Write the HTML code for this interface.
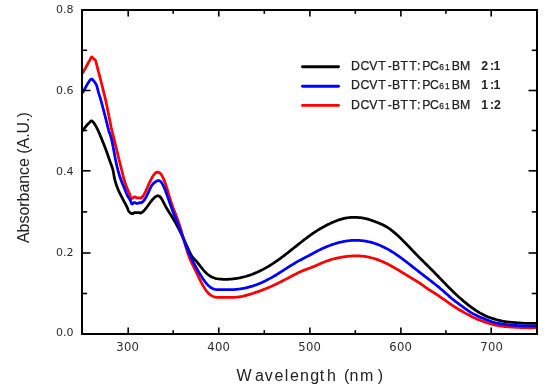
<!DOCTYPE html>
<html><head><meta charset="utf-8"><style>
html,body{margin:0;padding:0;background:#fff;}
body{width:550px;height:392px;overflow:hidden;}
svg{display:block;}
.tk{font-family:"DejaVu Sans","Liberation Sans",sans-serif;font-size:11.6px;fill:#2b2b2b;}
.xl{letter-spacing:0.25px;}
.yl{font-size:11px;}
.lg{font-family:"Liberation Sans",sans-serif;font-size:12.3px;fill:#222;stroke:#222;stroke-width:0.25px;letter-spacing:0.6px;}
.lg .sub{font-size:8.4px;}
.ti{font-family:"Liberation Sans",sans-serif;font-size:16px;fill:#222;}
</style></head><body>
<svg width="550" height="392" viewBox="0 0 550 392">
<rect width="550" height="392" fill="#fff"/>
<g fill="none" stroke-width="2.75" stroke-linejoin="round" stroke-linecap="round">
<path stroke="#000" d="M83.10,130.10 L83.27,129.87 L83.49,129.58 L83.75,129.22 L84.05,128.83 L84.37,128.40 L84.70,127.96 L85.04,127.50 L85.39,127.05 L85.72,126.61 L86.04,126.20 L86.34,125.82 L86.60,125.50 L86.84,125.22 L87.06,124.96 L87.27,124.72 L87.47,124.50 L87.67,124.29 L87.86,124.09 L88.04,123.91 L88.23,123.73 L88.41,123.55 L88.60,123.37 L88.80,123.19 L89.00,123.00 L89.21,122.80 L89.42,122.57 L89.63,122.33 L89.85,122.09 L90.06,121.85 L90.28,121.62 L90.50,121.41 L90.72,121.23 L90.94,121.08 L91.16,120.97 L91.38,120.91 L91.60,120.90 L91.82,120.95 L92.05,121.06 L92.28,121.21 L92.51,121.40 L92.74,121.63 L92.97,121.88 L93.20,122.15 L93.43,122.44 L93.65,122.74 L93.87,123.03 L94.09,123.32 L94.30,123.60 L94.51,123.87 L94.71,124.16 L94.90,124.44 L95.10,124.74 L95.29,125.04 L95.47,125.36 L95.66,125.68 L95.85,126.00 L96.03,126.34 L96.22,126.68 L96.41,127.04 L96.60,127.40 L96.79,127.77 L96.98,128.16 L97.17,128.56 L97.37,128.96 L97.56,129.38 L97.75,129.80 L97.94,130.23 L98.13,130.66 L98.33,131.09 L98.52,131.53 L98.71,131.97 L98.90,132.40 L99.08,132.81 L99.25,133.20 L99.42,133.56 L99.57,133.92 L99.73,134.28 L99.89,134.65 L100.06,135.05 L100.25,135.48 L100.45,135.96 L100.67,136.50 L100.92,137.11 L101.20,137.80 L101.52,138.59 L101.87,139.47 L102.25,140.42 L102.66,141.44 L103.09,142.51 L103.52,143.61 L103.97,144.73 L104.40,145.84 L104.83,146.95 L105.25,148.02 L105.64,149.04 L106.00,150.00 L106.34,150.91 L106.66,151.80 L106.97,152.67 L107.27,153.51 L107.56,154.35 L107.84,155.17 L108.12,155.98 L108.40,156.79 L108.67,157.59 L108.94,158.39 L109.22,159.19 L109.50,160.00 L109.79,160.81 L110.08,161.60 L110.37,162.39 L110.66,163.17 L110.95,163.94 L111.24,164.72 L111.52,165.50 L111.80,166.28 L112.06,167.07 L112.32,167.86 L112.57,168.67 L112.80,169.50 L113.01,170.34 L113.20,171.20 L113.38,172.07 L113.54,172.94 L113.69,173.83 L113.84,174.72 L113.99,175.61 L114.15,176.50 L114.31,177.39 L114.49,178.27 L114.68,179.14 L114.90,180.00 L115.13,180.85 L115.38,181.70 L115.63,182.54 L115.89,183.39 L116.15,184.22 L116.43,185.06 L116.72,185.89 L117.01,186.71 L117.32,187.54 L117.64,188.36 L117.96,189.18 L118.30,190.00 L118.65,190.82 L119.03,191.65 L119.43,192.49 L119.84,193.33 L120.26,194.16 L120.68,194.99 L121.11,195.80 L121.53,196.61 L121.94,197.39 L122.35,198.16 L122.73,198.89 L123.10,199.60 L123.45,200.28 L123.80,200.95 L124.15,201.60 L124.49,202.23 L124.82,202.85 L125.14,203.44 L125.46,204.02 L125.76,204.58 L126.04,205.11 L126.31,205.63 L126.57,206.13 L126.80,206.60 L127.01,207.05 L127.19,207.47 L127.35,207.87 L127.49,208.24 L127.62,208.59 L127.74,208.93 L127.85,209.25 L127.96,209.56 L128.08,209.86 L128.21,210.14 L128.34,210.42 L128.50,210.70 L128.67,210.97 L128.85,211.23 L129.04,211.48 L129.23,211.73 L129.43,211.96 L129.62,212.17 L129.83,212.38 L130.03,212.57 L130.22,212.75 L130.42,212.92 L130.61,213.07 L130.80,213.20 L130.98,213.32 L131.17,213.42 L131.35,213.50 L131.54,213.57 L131.72,213.63 L131.90,213.67 L132.08,213.70 L132.25,213.72 L132.42,213.73 L132.59,213.73 L132.75,213.72 L132.90,213.70 L133.03,213.67 L133.14,213.61 L133.22,213.53 L133.29,213.44 L133.36,213.34 L133.43,213.23 L133.51,213.12 L133.62,213.01 L133.75,212.91 L133.92,212.83 L134.13,212.75 L134.40,212.70 L134.74,212.66 L135.16,212.64 L135.64,212.63 L136.17,212.63 L136.73,212.63 L137.29,212.64 L137.86,212.65 L138.40,212.66 L138.90,212.68 L139.34,212.69 L139.72,212.70 L140.00,212.70 L140.22,213.14 L141.13,212.84 L142.03,212.34 L142.94,211.64 L143.85,210.79 L144.75,209.80 L145.66,208.71 L146.57,207.53 L147.47,206.30 L148.38,205.04 L149.29,203.78 L150.19,202.54 L151.10,201.34 L152.01,200.20 L152.91,199.14 L153.82,198.19 L154.73,197.35 L155.63,196.66 L156.54,196.16 L157.45,195.89 L158.35,195.90 L159.26,196.22 L160.17,196.91 L161.07,198.00 L161.98,199.41 L162.89,201.05 L163.79,202.82 L164.70,204.62 L165.61,206.35 L166.51,207.97 L167.42,209.52 L168.33,211.00 L169.23,212.44 L170.14,213.87 L171.05,215.30 L171.95,216.76 L172.86,218.25 L173.77,219.78 L174.67,221.34 L175.58,222.94 L176.49,224.58 L177.39,226.25 L178.30,227.97 L179.21,229.73 L180.11,231.53 L181.02,233.38 L181.93,235.27 L182.83,237.20 L183.74,239.17 L184.65,241.15 L185.55,243.15 L186.46,245.15 L187.37,247.14 L188.27,249.11 L189.18,251.06 L190.09,252.93 L190.99,254.67 L191.90,256.21 L192.81,257.48 L193.71,258.51 L194.62,259.44 L195.53,260.38 L196.43,261.40 L197.34,262.46 L198.24,263.57 L199.15,264.70 L200.06,265.85 L200.96,267.00 L201.87,268.13 L202.78,269.25 L203.68,270.32 L204.59,271.35 L205.50,272.32 L206.40,273.20 L207.31,274.01 L208.22,274.75 L209.12,275.41 L210.03,276.00 L210.94,276.53 L211.84,276.99 L212.75,277.40 L213.66,277.76 L214.56,278.06 L215.47,278.33 L216.38,278.55 L217.28,278.74 L218.19,278.89 L219.10,279.01 L220.00,279.11 L220.91,279.18 L221.82,279.23 L222.72,279.27 L223.63,279.30 L224.54,279.32 L225.44,279.32 L226.35,279.32 L227.26,279.30 L228.16,279.27 L229.07,279.22 L229.98,279.17 L230.88,279.10 L231.79,279.02 L232.70,278.93 L233.60,278.83 L234.51,278.71 L235.42,278.59 L236.32,278.46 L237.23,278.31 L238.14,278.16 L239.04,277.99 L239.95,277.81 L240.86,277.62 L241.76,277.42 L242.67,277.21 L243.58,276.98 L244.48,276.74 L245.39,276.50 L246.30,276.24 L247.20,275.96 L248.11,275.68 L249.02,275.39 L249.92,275.08 L250.83,274.76 L251.74,274.44 L252.64,274.10 L253.55,273.74 L254.46,273.38 L255.36,273.01 L256.27,272.62 L257.18,272.23 L258.08,271.82 L258.99,271.40 L259.90,270.97 L260.80,270.53 L261.71,270.08 L262.62,269.61 L263.52,269.14 L264.43,268.65 L265.34,268.16 L266.24,267.65 L267.15,267.13 L268.06,266.60 L268.96,266.06 L269.87,265.51 L270.78,264.95 L271.68,264.37 L272.59,263.79 L273.50,263.20 L274.40,262.59 L275.31,261.98 L276.22,261.36 L277.12,260.72 L278.03,260.08 L278.94,259.43 L279.84,258.77 L280.75,258.11 L281.66,257.44 L282.56,256.76 L283.47,256.07 L284.38,255.38 L285.28,254.68 L286.19,253.98 L287.10,253.28 L288.00,252.57 L288.91,251.85 L289.82,251.14 L290.72,250.42 L291.63,249.70 L292.54,248.98 L293.44,248.25 L294.35,247.53 L295.26,246.81 L296.16,246.09 L297.07,245.36 L297.98,244.64 L298.88,243.92 L299.79,243.21 L300.70,242.50 L301.60,241.79 L302.51,241.08 L303.42,240.38 L304.32,239.68 L305.23,238.99 L306.14,238.30 L307.04,237.63 L307.95,236.95 L308.86,236.29 L309.76,235.63 L310.67,234.98 L311.58,234.34 L312.48,233.71 L313.39,233.08 L314.30,232.47 L315.20,231.87 L316.11,231.28 L317.02,230.70 L317.92,230.13 L318.83,229.57 L319.74,229.03 L320.64,228.49 L321.55,227.97 L322.46,227.46 L323.36,226.96 L324.27,226.47 L325.18,225.99 L326.08,225.51 L326.99,225.05 L327.90,224.60 L328.80,224.15 L329.71,223.72 L330.62,223.29 L331.52,222.87 L332.43,222.46 L333.34,222.06 L334.24,221.67 L335.15,221.30 L336.06,220.93 L336.96,220.58 L337.87,220.24 L338.78,219.92 L339.68,219.62 L340.59,219.33 L341.50,219.07 L342.40,218.82 L343.31,218.59 L344.22,218.38 L345.12,218.19 L346.03,218.03 L346.94,217.88 L347.84,217.75 L348.75,217.65 L349.66,217.56 L350.56,217.49 L351.47,217.44 L352.38,217.40 L353.28,217.38 L354.19,217.37 L355.10,217.38 L356.00,217.40 L356.91,217.44 L357.82,217.49 L358.72,217.56 L359.63,217.64 L360.54,217.73 L361.44,217.85 L362.35,217.98 L363.26,218.12 L364.16,218.29 L365.07,218.48 L365.98,218.69 L366.88,218.92 L367.79,219.16 L368.70,219.43 L369.60,219.72 L370.51,220.02 L371.42,220.33 L372.32,220.65 L373.23,220.98 L374.14,221.32 L375.04,221.65 L375.95,221.99 L376.86,222.34 L377.76,222.68 L378.67,223.03 L379.58,223.39 L380.48,223.77 L381.39,224.16 L382.30,224.57 L383.20,225.00 L384.11,225.46 L385.02,225.95 L385.92,226.47 L386.83,227.01 L387.74,227.59 L388.64,228.19 L389.55,228.81 L390.46,229.47 L391.36,230.15 L392.27,230.85 L393.18,231.58 L394.08,232.33 L394.99,233.10 L395.90,233.89 L396.80,234.69 L397.71,235.52 L398.62,236.36 L399.52,237.22 L400.43,238.09 L401.34,238.97 L402.24,239.87 L403.15,240.77 L404.06,241.69 L404.96,242.61 L405.87,243.54 L406.78,244.48 L407.68,245.42 L408.59,246.36 L409.50,247.31 L410.40,248.26 L411.31,249.21 L412.22,250.16 L413.12,251.11 L414.03,252.06 L414.94,253.00 L415.84,253.94 L416.75,254.87 L417.66,255.80 L418.56,256.72 L419.47,257.63 L420.38,258.54 L421.28,259.45 L422.19,260.35 L423.09,261.24 L424.00,262.13 L424.91,263.02 L425.81,263.91 L426.72,264.81 L427.63,265.70 L428.53,266.60 L429.44,267.50 L430.35,268.40 L431.25,269.31 L432.16,270.23 L433.07,271.15 L433.97,272.07 L434.88,273.00 L435.79,273.93 L436.69,274.87 L437.60,275.80 L438.51,276.74 L439.41,277.68 L440.32,278.62 L441.23,279.57 L442.13,280.51 L443.04,281.45 L443.95,282.38 L444.85,283.32 L445.76,284.25 L446.67,285.18 L447.57,286.10 L448.48,287.02 L449.39,287.93 L450.29,288.84 L451.20,289.74 L452.11,290.63 L453.01,291.52 L453.92,292.40 L454.83,293.27 L455.73,294.13 L456.64,294.98 L457.55,295.82 L458.45,296.65 L459.36,297.47 L460.27,298.29 L461.17,299.09 L462.08,299.88 L462.99,300.66 L463.89,301.43 L464.80,302.18 L465.71,302.93 L466.61,303.66 L467.52,304.38 L468.43,305.09 L469.33,305.79 L470.24,306.47 L471.15,307.14 L472.05,307.80 L472.96,308.45 L473.87,309.08 L474.77,309.69 L475.68,310.30 L476.59,310.88 L477.49,311.46 L478.40,312.01 L479.31,312.56 L480.21,313.08 L481.12,313.59 L482.03,314.08 L482.93,314.56 L483.84,315.02 L484.75,315.46 L485.65,315.88 L486.56,316.28 L487.47,316.66 L488.37,317.03 L489.28,317.38 L490.19,317.71 L491.09,318.02 L492.00,318.33 L492.91,318.62 L493.81,318.90 L494.72,319.18 L495.63,319.44 L496.53,319.70 L497.44,319.96 L498.35,320.20 L499.25,320.44 L500.16,320.67 L501.07,320.88 L501.97,321.08 L502.88,321.27 L503.79,321.43 L504.69,321.58 L505.60,321.72 L506.51,321.84 L507.41,321.94 L508.32,322.03 L509.23,322.12 L510.13,322.19 L511.04,322.27 L511.95,322.34 L512.85,322.41 L513.76,322.48 L514.67,322.55 L515.57,322.62 L516.48,322.69 L517.39,322.77 L518.29,322.84 L519.20,322.91 L520.11,322.99 L521.01,323.06 L521.92,323.12 L522.83,323.19 L523.73,323.25 L524.64,323.30 L525.55,323.35 L526.45,323.39 L527.36,323.42 L528.27,323.44 L529.17,323.46 L530.08,323.47 L530.99,323.46 L531.89,323.45 L532.80,323.43 L533.71,323.41 L534.61,323.37 L535.52,323.34 L536.20,323.31"/>
<path stroke="#ff0000" d="M82.80,72.70 L82.91,72.51 L83.04,72.28 L83.19,72.01 L83.36,71.71 L83.55,71.38 L83.74,71.03 L83.95,70.67 L84.16,70.29 L84.38,69.91 L84.59,69.53 L84.80,69.16 L85.00,68.80 L85.20,68.44 L85.41,68.07 L85.62,67.70 L85.83,67.31 L86.05,66.92 L86.26,66.53 L86.48,66.14 L86.69,65.76 L86.90,65.38 L87.11,65.00 L87.31,64.65 L87.50,64.30 L87.68,63.97 L87.86,63.65 L88.03,63.34 L88.20,63.04 L88.36,62.74 L88.52,62.45 L88.68,62.16 L88.84,61.87 L89.00,61.59 L89.17,61.30 L89.33,61.00 L89.50,60.70 L89.67,60.38 L89.85,60.03 L90.02,59.66 L90.20,59.27 L90.38,58.89 L90.56,58.52 L90.73,58.16 L90.91,57.84 L91.09,57.55 L91.26,57.31 L91.43,57.12 L91.60,57.00 L91.77,56.95 L91.93,56.97 L92.09,57.05 L92.25,57.17 L92.41,57.33 L92.56,57.51 L92.72,57.72 L92.87,57.93 L93.03,58.15 L93.19,58.35 L93.34,58.54 L93.50,58.70 L93.66,58.83 L93.82,58.96 L93.99,59.07 L94.16,59.19 L94.33,59.30 L94.49,59.41 L94.66,59.54 L94.82,59.67 L94.97,59.82 L95.12,59.99 L95.27,60.18 L95.40,60.40 L95.52,60.64 L95.63,60.88 L95.73,61.13 L95.83,61.40 L95.91,61.68 L96.00,61.98 L96.09,62.30 L96.17,62.64 L96.27,63.01 L96.37,63.41 L96.48,63.84 L96.60,64.30 L96.73,64.80 L96.87,65.34 L97.02,65.92 L97.17,66.52 L97.32,67.15 L97.48,67.81 L97.64,68.48 L97.81,69.16 L97.98,69.84 L98.15,70.53 L98.33,71.22 L98.50,71.90 L98.67,72.55 L98.83,73.15 L98.99,73.72 L99.14,74.29 L99.30,74.86 L99.47,75.46 L99.64,76.09 L99.83,76.79 L100.04,77.56 L100.27,78.42 L100.52,79.40 L100.80,80.50 L101.12,81.77 L101.49,83.23 L101.89,84.83 L102.31,86.54 L102.76,88.33 L103.21,90.16 L103.66,92.00 L104.11,93.80 L104.53,95.54 L104.93,97.17 L105.29,98.67 L105.60,100.00 L105.87,101.17 L106.11,102.22 L106.32,103.17 L106.50,104.04 L106.67,104.84 L106.82,105.59 L106.97,106.31 L107.11,107.02 L107.25,107.72 L107.39,108.44 L107.54,109.20 L107.70,110.00 L107.87,110.83 L108.04,111.67 L108.20,112.50 L108.37,113.33 L108.54,114.17 L108.70,115.00 L108.86,115.83 L109.03,116.67 L109.20,117.50 L109.36,118.33 L109.53,119.17 L109.70,120.00 L109.87,120.83 L110.04,121.67 L110.21,122.50 L110.38,123.33 L110.55,124.17 L110.72,125.00 L110.89,125.83 L111.07,126.67 L111.24,127.50 L111.43,128.33 L111.61,129.17 L111.80,130.00 L111.99,130.80 L112.17,131.55 L112.34,132.27 L112.52,132.96 L112.69,133.66 L112.88,134.38 L113.07,135.12 L113.28,135.93 L113.50,136.80 L113.74,137.75 L114.01,138.82 L114.30,140.00 L114.63,141.35 L115.00,142.87 L115.40,144.53 L115.83,146.30 L116.27,148.13 L116.72,150.00 L117.17,151.87 L117.62,153.70 L118.04,155.47 L118.45,157.13 L118.82,158.65 L119.15,160.00 L119.44,161.19 L119.71,162.25 L119.96,163.22 L120.18,164.10 L120.39,164.91 L120.58,165.67 L120.77,166.39 L120.95,167.09 L121.13,167.78 L121.32,168.49 L121.50,169.22 L121.70,170.00 L121.90,170.80 L122.09,171.60 L122.28,172.40 L122.47,173.19 L122.65,173.98 L122.83,174.76 L123.02,175.54 L123.21,176.31 L123.40,177.07 L123.59,177.82 L123.79,178.57 L124.00,179.30 L124.22,180.03 L124.44,180.76 L124.67,181.48 L124.91,182.20 L125.15,182.92 L125.39,183.62 L125.63,184.31 L125.87,184.99 L126.11,185.64 L126.34,186.28 L126.58,186.90 L126.80,187.50 L127.02,188.07 L127.24,188.61 L127.46,189.14 L127.67,189.64 L127.89,190.12 L128.10,190.59 L128.31,191.05 L128.51,191.51 L128.72,191.96 L128.92,192.40 L129.11,192.85 L129.30,193.30 L129.48,193.77 L129.65,194.27 L129.81,194.78 L129.96,195.30 L130.11,195.81 L130.26,196.31 L130.41,196.78 L130.57,197.21 L130.73,197.61 L130.91,197.94 L131.10,198.21 L131.30,198.40 L131.52,198.50 L131.76,198.50 L132.01,198.43 L132.27,198.30 L132.54,198.12 L132.81,197.91 L133.09,197.68 L133.36,197.46 L133.63,197.25 L133.90,197.08 L134.16,196.96 L134.40,196.90 L134.63,196.90 L134.86,196.93 L135.08,197.00 L135.29,197.09 L135.50,197.19 L135.71,197.31 L135.91,197.43 L136.12,197.55 L136.33,197.66 L136.55,197.76 L136.77,197.84 L137.00,197.90 L137.25,197.94 L137.51,197.96 L137.79,197.97 L138.08,197.97 L138.37,197.97 L138.66,197.96 L138.94,197.95 L139.21,197.94 L139.45,197.92 L139.67,197.91 L139.85,197.90 L140.00,197.90 L140.86,198.18 L141.77,197.50 L142.68,196.49 L143.59,195.16 L144.49,193.56 L145.40,191.74 L146.31,189.77 L147.22,187.74 L148.12,185.68 L149.03,183.64 L149.94,181.68 L150.84,179.82 L151.75,178.09 L152.66,176.52 L153.57,175.15 L154.47,174.00 L155.38,173.10 L156.29,172.48 L157.19,172.15 L158.10,172.13 L159.01,172.44 L159.92,173.08 L160.82,174.04 L161.73,175.31 L162.64,176.90 L163.55,178.78 L164.45,180.97 L165.36,183.45 L166.27,186.21 L167.17,189.18 L168.08,192.26 L168.99,195.35 L169.90,198.39 L170.80,201.26 L171.71,203.94 L172.62,206.46 L173.53,208.87 L174.43,211.21 L175.34,213.53 L176.25,215.88 L177.15,218.30 L178.06,220.84 L178.97,223.52 L179.88,226.33 L180.78,229.27 L181.69,232.31 L182.60,235.46 L183.51,238.67 L184.41,241.89 L185.32,245.06 L186.23,248.13 L187.13,251.06 L188.04,253.81 L188.95,256.33 L189.86,258.63 L190.76,260.76 L191.67,262.74 L192.58,264.64 L193.48,266.48 L194.39,268.31 L195.30,270.16 L196.21,272.04 L197.11,273.93 L198.02,275.82 L198.93,277.70 L199.84,279.55 L200.74,281.35 L201.65,283.11 L202.56,284.79 L203.46,286.40 L204.37,287.91 L205.28,289.32 L206.19,290.61 L207.09,291.77 L208.00,292.79 L208.91,293.68 L209.82,294.46 L210.72,295.12 L211.63,295.68 L212.54,296.15 L213.44,296.53 L214.35,296.83 L215.26,297.05 L216.17,297.22 L217.07,297.33 L217.98,297.40 L218.89,297.43 L219.80,297.43 L220.70,297.40 L221.61,297.36 L222.52,297.33 L223.42,297.30 L224.33,297.28 L225.24,297.28 L226.15,297.28 L227.05,297.29 L227.96,297.31 L228.87,297.32 L229.78,297.34 L230.68,297.35 L231.59,297.35 L232.50,297.34 L233.40,297.32 L234.31,297.29 L235.22,297.25 L236.13,297.19 L237.03,297.13 L237.94,297.04 L238.85,296.93 L239.75,296.81 L240.66,296.66 L241.57,296.50 L242.48,296.32 L243.38,296.12 L244.29,295.91 L245.20,295.68 L246.11,295.44 L247.01,295.19 L247.92,294.93 L248.83,294.66 L249.73,294.38 L250.64,294.10 L251.55,293.81 L252.46,293.52 L253.36,293.22 L254.27,292.92 L255.18,292.62 L256.09,292.31 L256.99,291.99 L257.90,291.67 L258.81,291.35 L259.71,291.02 L260.62,290.68 L261.53,290.35 L262.44,290.00 L263.34,289.65 L264.25,289.30 L265.16,288.94 L266.07,288.57 L266.97,288.20 L267.88,287.82 L268.79,287.44 L269.69,287.05 L270.60,286.65 L271.51,286.25 L272.42,285.85 L273.32,285.43 L274.23,285.01 L275.14,284.59 L276.05,284.16 L276.95,283.72 L277.86,283.28 L278.77,282.83 L279.67,282.38 L280.58,281.92 L281.49,281.46 L282.40,281.00 L283.30,280.54 L284.21,280.07 L285.12,279.60 L286.02,279.12 L286.93,278.65 L287.84,278.17 L288.75,277.69 L289.65,277.22 L290.56,276.74 L291.47,276.26 L292.38,275.79 L293.28,275.31 L294.19,274.84 L295.10,274.37 L296.00,273.91 L296.91,273.45 L297.82,272.99 L298.73,272.55 L299.63,272.11 L300.54,271.69 L301.45,271.28 L302.36,270.88 L303.26,270.51 L304.17,270.14 L305.08,269.79 L305.98,269.45 L306.89,269.13 L307.80,268.80 L308.71,268.48 L309.61,268.16 L310.52,267.83 L311.43,267.49 L312.34,267.14 L313.24,266.78 L314.15,266.41 L315.06,266.02 L315.96,265.63 L316.87,265.23 L317.78,264.83 L318.69,264.42 L319.59,264.01 L320.50,263.61 L321.41,263.21 L322.31,262.81 L323.22,262.43 L324.13,262.05 L325.04,261.69 L325.94,261.34 L326.85,261.00 L327.76,260.68 L328.67,260.37 L329.57,260.08 L330.48,259.79 L331.39,259.52 L332.29,259.26 L333.20,259.01 L334.11,258.78 L335.02,258.55 L335.92,258.33 L336.83,258.13 L337.74,257.94 L338.65,257.75 L339.55,257.58 L340.46,257.41 L341.37,257.26 L342.27,257.11 L343.18,256.97 L344.09,256.84 L345.00,256.72 L345.90,256.60 L346.81,256.49 L347.72,256.38 L348.63,256.29 L349.53,256.20 L350.44,256.12 L351.35,256.05 L352.25,255.99 L353.16,255.94 L354.07,255.91 L354.98,255.88 L355.88,255.87 L356.79,255.87 L357.70,255.89 L358.61,255.91 L359.51,255.96 L360.42,256.01 L361.33,256.08 L362.23,256.16 L363.14,256.25 L364.05,256.36 L364.96,256.48 L365.86,256.62 L366.77,256.77 L367.68,256.93 L368.58,257.11 L369.49,257.30 L370.40,257.51 L371.31,257.73 L372.21,257.96 L373.12,258.21 L374.03,258.47 L374.94,258.75 L375.84,259.04 L376.75,259.35 L377.66,259.66 L378.56,260.00 L379.47,260.35 L380.38,260.71 L381.29,261.08 L382.19,261.47 L383.10,261.87 L384.01,262.28 L384.92,262.71 L385.82,263.15 L386.73,263.59 L387.64,264.05 L388.54,264.52 L389.45,265.00 L390.36,265.49 L391.27,265.98 L392.17,266.49 L393.08,267.00 L393.99,267.52 L394.90,268.04 L395.80,268.57 L396.71,269.11 L397.62,269.65 L398.52,270.19 L399.43,270.74 L400.34,271.29 L401.25,271.84 L402.15,272.40 L403.06,272.95 L403.97,273.51 L404.88,274.07 L405.78,274.63 L406.69,275.18 L407.60,275.74 L408.50,276.29 L409.41,276.84 L410.32,277.39 L411.23,277.94 L412.13,278.48 L413.04,279.02 L413.95,279.56 L414.85,280.10 L415.76,280.64 L416.67,281.19 L417.58,281.75 L418.48,282.32 L419.39,282.90 L420.30,283.51 L421.21,284.14 L422.11,284.79 L423.02,285.45 L423.93,286.12 L424.83,286.79 L425.74,287.45 L426.65,288.10 L427.56,288.73 L428.46,289.33 L429.37,289.92 L430.28,290.48 L431.19,291.04 L432.09,291.59 L433.00,292.14 L433.91,292.71 L434.81,293.28 L435.72,293.87 L436.63,294.46 L437.54,295.07 L438.44,295.69 L439.35,296.31 L440.26,296.93 L441.17,297.56 L442.07,298.19 L442.98,298.82 L443.89,299.45 L444.79,300.09 L445.70,300.72 L446.61,301.36 L447.52,302.00 L448.42,302.64 L449.33,303.28 L450.24,303.91 L451.14,304.54 L452.05,305.16 L452.96,305.77 L453.87,306.37 L454.77,306.95 L455.68,307.53 L456.59,308.10 L457.50,308.66 L458.40,309.20 L459.31,309.74 L460.22,310.27 L461.12,310.79 L462.03,311.31 L462.94,311.82 L463.85,312.33 L464.75,312.84 L465.66,313.34 L466.57,313.84 L467.48,314.33 L468.38,314.82 L469.29,315.31 L470.20,315.79 L471.10,316.27 L472.01,316.73 L472.92,317.19 L473.83,317.63 L474.73,318.06 L475.64,318.47 L476.55,318.87 L477.46,319.25 L478.36,319.62 L479.27,319.98 L480.18,320.33 L481.08,320.67 L481.99,321.00 L482.90,321.33 L483.81,321.66 L484.71,321.98 L485.62,322.30 L486.53,322.62 L487.44,322.92 L488.34,323.22 L489.25,323.50 L490.16,323.77 L491.06,324.03 L491.97,324.28 L492.88,324.51 L493.79,324.73 L494.69,324.94 L495.60,325.14 L496.51,325.32 L497.41,325.50 L498.32,325.67 L499.23,325.83 L500.14,325.97 L501.04,326.11 L501.95,326.24 L502.86,326.36 L503.77,326.46 L504.67,326.56 L505.58,326.65 L506.49,326.73 L507.39,326.80 L508.30,326.87 L509.21,326.94 L510.12,327.00 L511.02,327.05 L511.93,327.11 L512.84,327.16 L513.75,327.21 L514.65,327.26 L515.56,327.31 L516.47,327.36 L517.37,327.41 L518.28,327.45 L519.19,327.50 L520.10,327.54 L521.00,327.58 L521.91,327.62 L522.82,327.65 L523.73,327.68 L524.63,327.71 L525.54,327.73 L526.45,327.75 L527.35,327.77 L528.26,327.78 L529.17,327.79 L530.08,327.79 L530.98,327.78 L531.89,327.78 L532.80,327.76 L533.71,327.75 L534.61,327.73 L535.52,327.71 L536.20,327.70"/>
<path stroke="#0000ff" d="M82.80,92.40 L82.99,92.06 L83.23,91.61 L83.52,91.09 L83.84,90.50 L84.18,89.86 L84.55,89.19 L84.92,88.51 L85.30,87.83 L85.66,87.18 L86.00,86.56 L86.32,85.99 L86.60,85.50 L86.85,85.07 L87.08,84.66 L87.29,84.28 L87.50,83.93 L87.69,83.60 L87.87,83.28 L88.06,82.98 L88.24,82.69 L88.42,82.41 L88.60,82.14 L88.80,81.87 L89.00,81.60 L89.21,81.32 L89.42,81.03 L89.63,80.73 L89.85,80.44 L90.06,80.16 L90.28,79.89 L90.50,79.64 L90.72,79.43 L90.94,79.25 L91.16,79.11 L91.38,79.03 L91.60,79.00 L91.82,79.04 L92.05,79.13 L92.28,79.28 L92.51,79.47 L92.74,79.69 L92.97,79.95 L93.20,80.23 L93.43,80.52 L93.65,80.82 L93.87,81.12 L94.09,81.42 L94.30,81.70 L94.51,81.97 L94.71,82.23 L94.91,82.50 L95.11,82.77 L95.31,83.05 L95.50,83.34 L95.69,83.64 L95.88,83.96 L96.06,84.31 L96.24,84.67 L96.42,85.07 L96.60,85.50 L96.77,85.97 L96.94,86.47 L97.10,87.00 L97.25,87.56 L97.40,88.15 L97.56,88.74 L97.71,89.35 L97.86,89.97 L98.01,90.59 L98.17,91.20 L98.33,91.81 L98.50,92.40 L98.67,92.97 L98.84,93.53 L99.01,94.08 L99.19,94.63 L99.37,95.17 L99.54,95.73 L99.73,96.29 L99.91,96.87 L100.10,97.48 L100.30,98.12 L100.49,98.79 L100.70,99.50 L100.91,100.26 L101.13,101.06 L101.36,101.90 L101.60,102.77 L101.83,103.66 L102.08,104.57 L102.32,105.49 L102.56,106.41 L102.80,107.33 L103.04,108.24 L103.27,109.13 L103.50,110.00 L103.72,110.85 L103.95,111.70 L104.17,112.54 L104.39,113.37 L104.60,114.20 L104.82,115.03 L105.03,115.86 L105.25,116.69 L105.46,117.51 L105.67,118.34 L105.89,119.17 L106.10,120.00 L106.31,120.83 L106.52,121.67 L106.72,122.50 L106.92,123.33 L107.12,124.17 L107.32,125.00 L107.52,125.83 L107.73,126.67 L107.94,127.50 L108.15,128.33 L108.37,129.17 L108.60,130.00 L108.83,130.80 L109.07,131.55 L109.31,132.27 L109.56,132.96 L109.81,133.66 L110.06,134.38 L110.32,135.12 L110.59,135.93 L110.85,136.80 L111.13,137.75 L111.41,138.82 L111.70,140.00 L112.00,141.35 L112.32,142.87 L112.66,144.53 L113.00,146.30 L113.35,148.13 L113.70,150.00 L114.05,151.87 L114.39,153.70 L114.72,155.47 L115.03,157.13 L115.33,158.65 L115.60,160.00 L115.85,161.19 L116.07,162.25 L116.27,163.21 L116.46,164.09 L116.64,164.90 L116.81,165.66 L116.98,166.38 L117.15,167.07 L117.32,167.77 L117.50,168.48 L117.69,169.22 L117.90,170.00 L118.12,170.81 L118.34,171.62 L118.56,172.42 L118.79,173.22 L119.03,174.02 L119.26,174.81 L119.50,175.60 L119.75,176.39 L120.00,177.17 L120.26,177.95 L120.53,178.73 L120.80,179.50 L121.08,180.27 L121.38,181.05 L121.69,181.84 L122.01,182.62 L122.33,183.40 L122.66,184.17 L122.98,184.93 L123.30,185.68 L123.62,186.42 L123.93,187.13 L124.22,187.83 L124.50,188.50 L124.76,189.15 L125.02,189.78 L125.26,190.39 L125.49,190.99 L125.72,191.58 L125.94,192.14 L126.16,192.70 L126.39,193.24 L126.61,193.77 L126.83,194.29 L127.06,194.80 L127.30,195.30 L127.55,195.79 L127.80,196.27 L128.07,196.73 L128.34,197.18 L128.61,197.62 L128.88,198.05 L129.14,198.47 L129.40,198.87 L129.64,199.27 L129.88,199.66 L130.10,200.03 L130.30,200.40 L130.48,200.77 L130.64,201.15 L130.78,201.53 L130.90,201.90 L131.02,202.26 L131.13,202.61 L131.24,202.94 L131.35,203.23 L131.47,203.49 L131.60,203.71 L131.74,203.88 L131.90,204.00 L132.08,204.05 L132.26,204.02 L132.46,203.92 L132.66,203.79 L132.87,203.61 L133.09,203.41 L133.31,203.21 L133.53,203.00 L133.75,202.82 L133.97,202.66 L134.19,202.55 L134.40,202.50 L134.61,202.50 L134.82,202.55 L135.03,202.62 L135.24,202.72 L135.46,202.84 L135.67,202.97 L135.88,203.10 L136.10,203.22 L136.32,203.33 L136.54,203.42 L136.77,203.48 L137.00,203.50 L137.25,203.48 L137.51,203.44 L137.79,203.37 L138.08,203.28 L138.37,203.17 L138.66,203.06 L138.94,202.95 L139.21,202.83 L139.45,202.73 L139.67,202.63 L139.85,202.55 L140.00,202.50 L140.86,202.89 L141.77,202.49 L142.68,201.80 L143.59,200.84 L144.49,199.64 L145.40,198.22 L146.31,196.61 L147.22,194.84 L148.12,192.92 L149.03,190.90 L149.94,188.88 L150.84,187.05 L151.75,185.55 L152.66,184.36 L153.57,183.40 L154.47,182.60 L155.38,181.90 L156.29,181.29 L157.19,180.83 L158.10,180.58 L159.01,180.61 L159.92,180.97 L160.82,181.72 L161.73,182.87 L162.64,184.37 L163.55,186.18 L164.45,188.24 L165.36,190.51 L166.27,192.94 L167.17,195.49 L168.08,198.10 L168.99,200.74 L169.90,203.36 L170.80,205.91 L171.71,208.38 L172.62,210.78 L173.53,213.13 L174.43,215.44 L175.34,217.73 L176.25,219.99 L177.15,222.25 L178.06,224.52 L178.97,226.81 L179.88,229.14 L180.78,231.51 L181.69,233.93 L182.60,236.40 L183.51,238.88 L184.41,241.36 L185.32,243.80 L186.23,246.18 L187.13,248.48 L188.04,250.69 L188.95,252.83 L189.86,254.89 L190.76,256.89 L191.67,258.81 L192.58,260.68 L193.48,262.49 L194.39,264.24 L195.30,265.94 L196.21,267.60 L197.11,269.22 L198.02,270.81 L198.93,272.36 L199.84,273.88 L200.74,275.36 L201.65,276.79 L202.56,278.18 L203.46,279.51 L204.37,280.79 L205.28,281.99 L206.19,283.12 L207.09,284.17 L208.00,285.14 L208.91,286.02 L209.82,286.79 L210.72,287.47 L211.63,288.04 L212.54,288.51 L213.44,288.88 L214.35,289.18 L215.26,289.40 L216.17,289.55 L217.07,289.66 L217.98,289.72 L218.89,289.74 L219.80,289.74 L220.70,289.72 L221.61,289.70 L222.52,289.69 L223.42,289.68 L224.33,289.68 L225.24,289.68 L226.15,289.68 L227.05,289.69 L227.96,289.69 L228.87,289.68 L229.78,289.67 L230.68,289.66 L231.59,289.63 L232.50,289.60 L233.40,289.56 L234.31,289.51 L235.22,289.45 L236.13,289.38 L237.03,289.30 L237.94,289.21 L238.85,289.11 L239.75,289.00 L240.66,288.87 L241.57,288.73 L242.48,288.58 L243.38,288.42 L244.29,288.24 L245.20,288.05 L246.11,287.85 L247.01,287.64 L247.92,287.41 L248.83,287.17 L249.73,286.92 L250.64,286.66 L251.55,286.39 L252.46,286.11 L253.36,285.81 L254.27,285.50 L255.18,285.19 L256.09,284.86 L256.99,284.51 L257.90,284.16 L258.81,283.80 L259.71,283.43 L260.62,283.04 L261.53,282.65 L262.44,282.24 L263.34,281.82 L264.25,281.40 L265.16,280.96 L266.07,280.51 L266.97,280.05 L267.88,279.59 L268.79,279.11 L269.69,278.62 L270.60,278.12 L271.51,277.62 L272.42,277.10 L273.32,276.58 L274.23,276.05 L275.14,275.51 L276.05,274.96 L276.95,274.40 L277.86,273.84 L278.77,273.28 L279.67,272.70 L280.58,272.13 L281.49,271.55 L282.40,270.96 L283.30,270.38 L284.21,269.80 L285.12,269.21 L286.02,268.62 L286.93,268.04 L287.84,267.46 L288.75,266.88 L289.65,266.30 L290.56,265.73 L291.47,265.17 L292.38,264.61 L293.28,264.05 L294.19,263.51 L295.10,262.97 L296.00,262.44 L296.91,261.92 L297.82,261.40 L298.73,260.90 L299.63,260.41 L300.54,259.92 L301.45,259.44 L302.36,258.96 L303.26,258.49 L304.17,258.02 L305.08,257.55 L305.98,257.08 L306.89,256.61 L307.80,256.14 L308.71,255.66 L309.61,255.18 L310.52,254.70 L311.43,254.21 L312.34,253.72 L313.24,253.23 L314.15,252.75 L315.06,252.26 L315.96,251.77 L316.87,251.29 L317.78,250.82 L318.69,250.36 L319.59,249.90 L320.50,249.45 L321.41,249.01 L322.31,248.59 L323.22,248.17 L324.13,247.77 L325.04,247.37 L325.94,246.99 L326.85,246.62 L327.76,246.26 L328.67,245.91 L329.57,245.56 L330.48,245.23 L331.39,244.91 L332.29,244.59 L333.20,244.29 L334.11,243.99 L335.02,243.71 L335.92,243.43 L336.83,243.17 L337.74,242.91 L338.65,242.67 L339.55,242.43 L340.46,242.21 L341.37,242.00 L342.27,241.80 L343.18,241.61 L344.09,241.43 L345.00,241.27 L345.90,241.12 L346.81,240.98 L347.72,240.86 L348.63,240.75 L349.53,240.65 L350.44,240.56 L351.35,240.49 L352.25,240.43 L353.16,240.39 L354.07,240.35 L354.98,240.34 L355.88,240.33 L356.79,240.34 L357.70,240.37 L358.61,240.40 L359.51,240.45 L360.42,240.52 L361.33,240.60 L362.23,240.69 L363.14,240.80 L364.05,240.92 L364.96,241.06 L365.86,241.21 L366.77,241.37 L367.68,241.55 L368.58,241.74 L369.49,241.95 L370.40,242.17 L371.31,242.41 L372.21,242.66 L373.12,242.93 L374.03,243.21 L374.94,243.50 L375.84,243.81 L376.75,244.13 L377.66,244.47 L378.56,244.82 L379.47,245.19 L380.38,245.57 L381.29,245.97 L382.19,246.38 L383.10,246.80 L384.01,247.24 L384.92,247.69 L385.82,248.16 L386.73,248.63 L387.64,249.13 L388.54,249.63 L389.45,250.16 L390.36,250.69 L391.27,251.24 L392.17,251.80 L393.08,252.37 L393.99,252.95 L394.90,253.55 L395.80,254.15 L396.71,254.77 L397.62,255.40 L398.52,256.04 L399.43,256.68 L400.34,257.34 L401.25,258.00 L402.15,258.67 L403.06,259.35 L403.97,260.04 L404.88,260.73 L405.78,261.42 L406.69,262.12 L407.60,262.82 L408.50,263.53 L409.41,264.24 L410.32,264.95 L411.23,265.67 L412.13,266.38 L413.04,267.10 L413.95,267.82 L414.85,268.53 L415.76,269.25 L416.67,269.96 L417.58,270.67 L418.48,271.38 L419.39,272.09 L420.30,272.80 L421.21,273.50 L422.11,274.20 L423.02,274.90 L423.93,275.60 L424.83,276.29 L425.74,276.99 L426.65,277.68 L427.56,278.38 L428.46,279.07 L429.37,279.77 L430.28,280.47 L431.19,281.17 L432.09,281.87 L433.00,282.58 L433.91,283.29 L434.81,284.00 L435.72,284.72 L436.63,285.45 L437.54,286.19 L438.44,286.93 L439.35,287.68 L440.26,288.44 L441.17,289.20 L442.07,289.98 L442.98,290.76 L443.89,291.56 L444.79,292.36 L445.70,293.16 L446.61,293.97 L447.52,294.78 L448.42,295.58 L449.33,296.38 L450.24,297.17 L451.14,297.95 L452.05,298.71 L452.96,299.46 L453.87,300.19 L454.77,300.90 L455.68,301.59 L456.59,302.27 L457.50,302.95 L458.40,303.61 L459.31,304.27 L460.22,304.93 L461.12,305.59 L462.03,306.26 L462.94,306.92 L463.85,307.59 L464.75,308.26 L465.66,308.92 L466.57,309.58 L467.48,310.22 L468.38,310.85 L469.29,311.45 L470.20,312.04 L471.10,312.60 L472.01,313.13 L472.92,313.65 L473.83,314.14 L474.73,314.61 L475.64,315.07 L476.55,315.52 L477.46,315.95 L478.36,316.37 L479.27,316.77 L480.18,317.16 L481.08,317.54 L481.99,317.92 L482.90,318.28 L483.81,318.64 L484.71,318.99 L485.62,319.35 L486.53,319.71 L487.44,320.07 L488.34,320.42 L489.25,320.77 L490.16,321.12 L491.06,321.44 L491.97,321.75 L492.88,322.05 L493.79,322.32 L494.69,322.57 L495.60,322.80 L496.51,323.01 L497.41,323.21 L498.32,323.39 L499.23,323.56 L500.14,323.71 L501.04,323.86 L501.95,324.00 L502.86,324.14 L503.77,324.26 L504.67,324.38 L505.58,324.50 L506.49,324.61 L507.39,324.71 L508.30,324.81 L509.21,324.90 L510.12,324.99 L511.02,325.07 L511.93,325.15 L512.84,325.23 L513.75,325.30 L514.65,325.36 L515.56,325.42 L516.47,325.48 L517.37,325.54 L518.28,325.59 L519.19,325.64 L520.10,325.68 L521.00,325.72 L521.91,325.76 L522.82,325.80 L523.73,325.83 L524.63,325.86 L525.54,325.89 L526.45,325.92 L527.35,325.95 L528.26,325.97 L529.17,326.00 L530.08,326.02 L530.98,326.04 L531.89,326.06 L532.80,326.08 L533.71,326.10 L534.61,326.12 L535.52,326.14 L536.20,326.15"/>
</g>
<g stroke="#000" fill="none">
<rect x="82.0" y="10.0" width="455.0" height="324.0" stroke-width="2"/>
<g stroke-width="1.6"><line x1="128.2" y1="334.0" x2="128.2" y2="327.5"/><line x1="128.2" y1="10.0" x2="128.2" y2="16.5"/><line x1="173.2" y1="334.0" x2="173.2" y2="330.2"/><line x1="173.2" y1="10.0" x2="173.2" y2="13.8"/><line x1="218.8" y1="334.0" x2="218.8" y2="327.5"/><line x1="218.8" y1="10.0" x2="218.8" y2="16.5"/><line x1="264.3" y1="334.0" x2="264.3" y2="330.2"/><line x1="264.3" y1="10.0" x2="264.3" y2="13.8"/><line x1="309.9" y1="334.0" x2="309.9" y2="327.5"/><line x1="309.9" y1="10.0" x2="309.9" y2="16.5"/><line x1="355.3" y1="334.0" x2="355.3" y2="330.2"/><line x1="355.3" y1="10.0" x2="355.3" y2="13.8"/><line x1="400.9" y1="334.0" x2="400.9" y2="327.5"/><line x1="400.9" y1="10.0" x2="400.9" y2="16.5"/><line x1="445.9" y1="334.0" x2="445.9" y2="330.2"/><line x1="445.9" y1="10.0" x2="445.9" y2="13.8"/><line x1="491.2" y1="334.0" x2="491.2" y2="327.5"/><line x1="491.2" y1="10.0" x2="491.2" y2="16.5"/><line x1="82.0" y1="293.5" x2="87.2" y2="293.5"/><line x1="537.0" y1="293.5" x2="531.8" y2="293.5"/><line x1="82.0" y1="253.0" x2="90.5" y2="253.0"/><line x1="537.0" y1="253.0" x2="528.5" y2="253.0"/><line x1="82.0" y1="211.9" x2="87.2" y2="211.9"/><line x1="537.0" y1="211.9" x2="531.8" y2="211.9"/><line x1="82.0" y1="170.8" x2="90.5" y2="170.8"/><line x1="537.0" y1="170.8" x2="528.5" y2="170.8"/><line x1="82.0" y1="130.5" x2="87.2" y2="130.5"/><line x1="537.0" y1="130.5" x2="531.8" y2="130.5"/><line x1="82.0" y1="90.5" x2="90.5" y2="90.5"/><line x1="537.0" y1="90.5" x2="528.5" y2="90.5"/><line x1="82.0" y1="50.3" x2="87.2" y2="50.3"/><line x1="537.0" y1="50.3" x2="531.8" y2="50.3"/></g>
</g>
<g class="tk"><text class="xl" x="127.7" y="350.5" text-anchor="middle">300</text><text class="xl" x="218.7" y="350.5" text-anchor="middle">400</text><text class="xl" x="309.7" y="350.5" text-anchor="middle">500</text><text class="xl" x="400.7" y="350.5" text-anchor="middle">600</text><text class="xl" x="491.7" y="350.5" text-anchor="middle">700</text><text class="yl" x="73.6" y="336.4" text-anchor="end">0.0</text><text class="yl" x="73.6" y="255.7" text-anchor="end">0.2</text><text class="yl" x="73.6" y="174.6" text-anchor="end">0.4</text><text class="yl" x="73.6" y="93.6" text-anchor="end">0.6</text><text class="yl" x="73.6" y="13.0" text-anchor="end">0.8</text></g>
<g stroke-width="2.9" stroke-linecap="round">
<line x1="302.5" y1="66.7" x2="338.5" y2="66.7" stroke="#000"/>
<line x1="302.5" y1="86.2" x2="338.5" y2="86.2" stroke="#0000ff"/>
<line x1="302.5" y1="105.4" x2="338.5" y2="105.4" stroke="#ff0000"/>
</g>
<g class="lg">
<text y="70"><tspan x="351.0 360.6 369.35 378.3 387.7 392.0 400.6 409.3 416.9 422.2 429.9">DCVT-BTT:PC</tspan><tspan x="439.2 444.9" class="sub">61</tspan><tspan x="451.7 460.1">BM</tspan><tspan x="481.3 490.0 493.6" font-weight="bold" stroke-width="0">2:1</tspan></text>
<text y="89.4"><tspan x="351.0 360.6 369.35 378.3 387.7 392.0 400.6 409.3 416.9 422.2 429.9">DCVT-BTT:PC</tspan><tspan x="439.2 444.9" class="sub">61</tspan><tspan x="451.7 460.1">BM</tspan><tspan x="481.2 490.0 493.6" font-weight="bold" stroke-width="0">1:1</tspan></text>
<text y="109"><tspan x="351.0 360.6 369.35 378.3 387.7 392.0 400.6 409.3 416.9 422.2 429.9">DCVT-BTT:PC</tspan><tspan x="439.2 444.9" class="sub">61</tspan><tspan x="451.7 460.1">BM</tspan><tspan x="481.2 490.0 494.0" font-weight="bold" stroke-width="0">1:2</tspan></text>
</g>
<text class="ti" x="236.4 255.1 264.75 274.5 284.8 290.1 299.9 310.3 319.8 326.9 336 344.0 349.4 360.0 377.7" y="380.6">Wavelength (nm)</text>
<text class="ti" transform="translate(28.6,243) rotate(-90)" letter-spacing="-0.05">Absorbance (A.U.)</text>
</svg>
</body></html>
